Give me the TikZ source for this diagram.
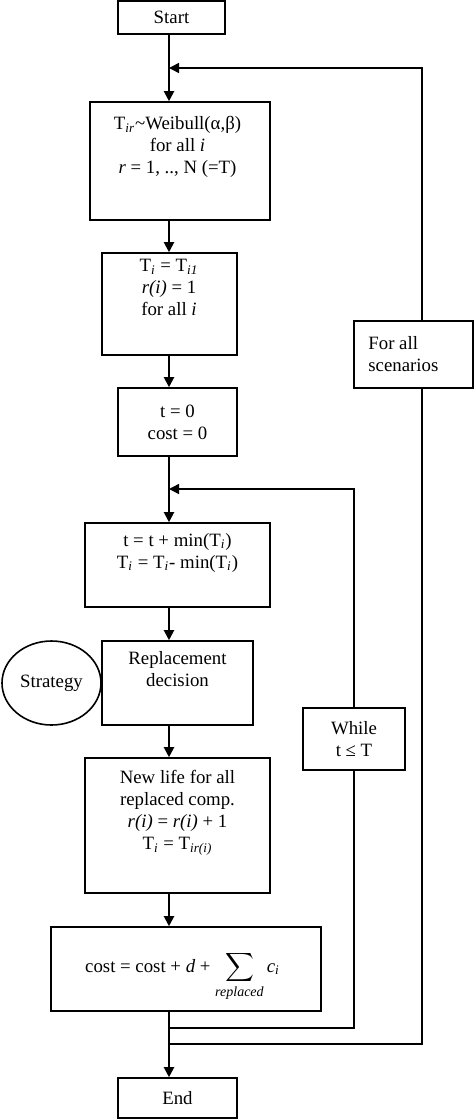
\documentclass[tikz,border=0pt]{standalone}
\usepackage{fontspec}
\setmainfont{Liberation Serif}
\usetikzlibrary{arrows.meta,positioning,shapes.geometric}

\begin{document}
\begin{tikzpicture}[x=0.5pt,y=-0.5pt,
  every node/.style={inner sep=1pt,font=\fontsize{9.4}{11}\selectfont},
  box/.style={draw,line width=0.8pt,rectangle,inner sep=0pt},
  flow/.style={line width=1pt,-{Triangle[length=5pt,width=5pt]}},
  loopline/.style={line width=0.75pt}]
\useasboundingbox (0,0) rectangle (474,1119);
\coordinate (axis) at (169,0);
\coordinate (scenx) at (422,0);
\node[box,minimum width=53.5pt,minimum height=16.5pt] (start) at (171.5,17.5) {Start};
\node[box,minimum width=90pt,minimum height=59pt] (weib) at (180,161) {};
\node[anchor=north,align=center] (weibtxt) at (177.5,114) {T\textsubscript{\textit{ir}}\textasciitilde Weibull(α,β)\\for all \textit{i}\\\textit{r} = 1, .., N (=T)};
\node[box,minimum width=67.5pt,minimum height=51pt] (tinit) at (169.5,304) {};
\node[anchor=north,align=center] (tinittxt) at (169,257) {T\textsubscript{\textit{i}} = T\textsubscript{\textit{i1}}\\\textit{r(i)} = 1\\for all \textit{i}};
\node[box,minimum width=59.5pt,minimum height=34pt,align=center] (tzero) at (177.5,422) {t = 0\\cost = 0};
\node[box,minimum width=92.5pt,minimum height=42pt] (tmin) at (177.5,565) {};
\node[anchor=north,align=center] (tmintxt) at (177.5,531) {t = t + min(T\textsubscript{\textit{i}})\\T\textsubscript{\textit{i}} = T\textsubscript{\textit{i}}- min(T\textsubscript{\textit{i}})};
\node[box,minimum width=75.5pt,minimum height=42pt] (repl) at (177.5,683) {};
\node[anchor=north,align=center] (repltxt) at (177.5,649) {Replacement\\decision};
\node[draw,ellipse,line width=0.8pt,inner sep=0pt,minimum width=49.5pt,minimum height=42pt] (strategy) at (51.5,683) {Strategy};
\node[box,minimum width=92.5pt,minimum height=67.5pt] (newlife) at (177.5,825.5) {};
\node[anchor=north,align=center] (newlifetxt) at (177.5,768) {New life for all\\replaced comp.\\\textit{r(i)} = \textit{r(i)} + 1\hspace*{11pt}\\T\textsubscript{\textit{i}} = T\textsubscript{\textit{ir(i)}}};
\node[box,minimum width=135pt,minimum height=42pt] (cost) at (186,969) {};
\node[anchor=base] (costtxt) at (182.5,972) {cost = cost + \textit{d} + $\displaystyle\sum_{\mbox{\scriptsize\itshape replaced}}$\,\textit{c}\textsubscript{\textit{i}}};
\node[box,minimum width=59.5pt,minimum height=20pt] (end) at (177.5,1098) {End};
\node[box,minimum width=59.5pt,minimum height=33.5pt] (scen) at (413.5,354.5) {};
\node[anchor=west,align=left] (scentxt) at (366,354) {For all\\scenarios};
\node[box,minimum width=51pt,minimum height=31pt,align=center] (whilebox) at (354,739) {While\\t ≤ T};
\coordinate (innerout) at (169,1028);
\coordinate (outerout) at (169,1044);
\coordinate (innerin) at (169,489);
\coordinate (outerin) at (169,68);
\draw[flow] (start.south -| axis) -- (weib.north -| axis);
\draw[flow] (weib.south -| axis) -- (tinit.north -| axis);
\draw[flow] (tinit.south -| axis) -- (tzero.north -| axis);
\draw[flow] (tzero.south -| axis) -- (tmin.north -| axis);
\draw[flow] (tmin.south -| axis) -- (repl.north -| axis);
\draw[flow] (repl.south -| axis) -- (newlife.north -| axis);
\draw[flow] (newlife.south -| axis) -- (cost.north -| axis);
\draw[flow] (cost.south -| axis) -- (end.north -| axis);
\draw[loopline] (innerout) -| (whilebox.south);
\draw[loopline,-{Triangle[length=5pt,width=5pt]}] (whilebox.north) |- (innerin);
\draw[loopline] (outerout) -| (scen.south -| scenx);
\draw[loopline,-{Triangle[length=5pt,width=5pt]}] (scen.north -| scenx) |- (outerin);
\end{tikzpicture}
\end{document}
